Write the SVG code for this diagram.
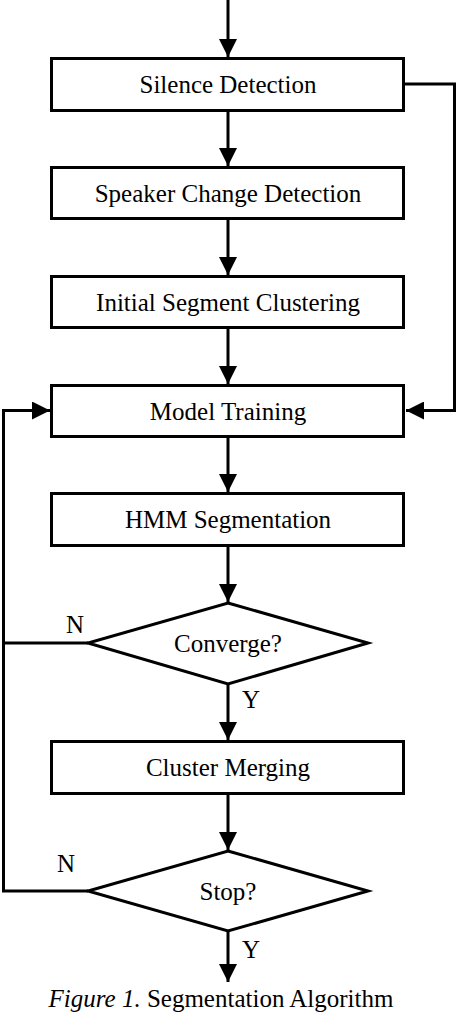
<svg xmlns="http://www.w3.org/2000/svg" width="456" height="1014" viewBox="0 0 456 1014">
<style>
.b{fill:#fff;stroke:#000;stroke-width:3}
.t{font-family:"Liberation Serif","Times New Roman",serif;font-size:25px;text-anchor:middle;fill:#000}
.l{font-family:"Liberation Serif","Times New Roman",serif;font-size:25px;fill:#000}
.c{fill:none;stroke:#000;stroke-width:3}
</style>
<defs>
<marker id="ah" markerUnits="userSpaceOnUse" markerWidth="18" markerHeight="18" viewBox="0 0 18 18" refX="18" refY="9" orient="auto">
<path d="M0,0 L18,9 L0,18 Z" fill="#000"/>
</marker>
</defs>
<rect width="456" height="1014" fill="#fff"/>
<g id="connectors">
<path class="c" d="M228,0 V57" marker-end="url(#ah)"/>
<path class="c" d="M228,111 V166" marker-end="url(#ah)"/>
<path class="c" d="M228,219 V275" marker-end="url(#ah)"/>
<path class="c" d="M228,328 V384" marker-end="url(#ah)"/>
<path class="c" d="M228,437 V492" marker-end="url(#ah)"/>
<path class="c" d="M228,546 V602" marker-end="url(#ah)"/>
<path class="c" d="M228,684 V740" marker-end="url(#ah)"/>
<path class="c" d="M228,794 V850" marker-end="url(#ah)"/>
<path class="c" d="M228,931 V982" marker-end="url(#ah)"/>
<path class="c" d="M405,84 H454.5 V410.5 H406" marker-end="url(#ah)"/>
<path class="c" d="M88,891 H3.5 V410.5 H50" marker-end="url(#ah)"/>
<path class="c" d="M88,643 H3.5"/>
</g>
<g id="n1"><rect class="b" x="51.5" y="58.5" width="352" height="52"/><text class="t" x="228" y="93">Silence Detection</text></g>
<g id="n2"><rect class="b" x="51.5" y="167.5" width="352" height="51"/><text class="t" x="228" y="202">Speaker Change Detection</text></g>
<g id="n3"><rect class="b" x="51.5" y="276.5" width="352" height="51"/><text class="t" x="228" y="311">Initial Segment Clustering</text></g>
<g id="n4"><rect class="b" x="51.5" y="385.5" width="352" height="51"/><text class="t" x="228" y="420">Model Training</text></g>
<g id="n5"><rect class="b" x="51.5" y="493.5" width="352" height="52"/><text class="t" x="228" y="528">HMM Segmentation</text></g>
<g id="n6"><polygon class="b" points="228,603 368,643 228,684 88,643"/><text class="t" x="228" y="652">Converge?</text></g>
<g id="n7"><rect class="b" x="51.5" y="741.5" width="352" height="52"/><text class="t" x="228" y="776">Cluster Merging</text></g>
<g id="n8"><polygon class="b" points="228,851 368,891 228,931 88,891"/><text class="t" x="228" y="900">Stop?</text></g>
<g id="labels">
<text class="l" x="66" y="633">N</text>
<text class="l" x="242" y="708">Y</text>
<text class="l" x="57" y="872">N</text>
<text class="l" x="242" y="958">Y</text>
<text class="t" x="221" y="1007"><tspan font-style="italic">Figure 1.</tspan> Segmentation Algorithm</text>
</g>
</svg>
